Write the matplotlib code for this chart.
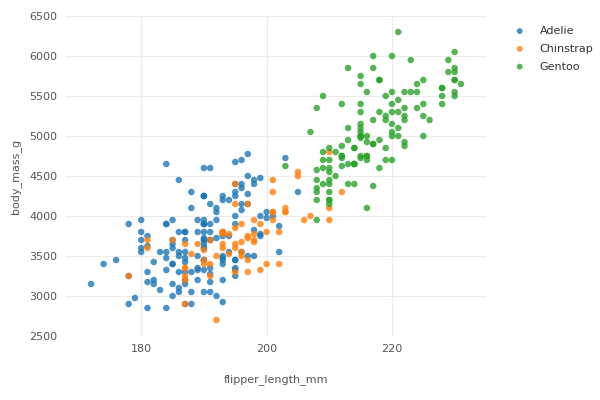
import matplotlib
matplotlib.use("Agg")
import matplotlib.pyplot as plt

adelie = [(181,3750),(186,3800),(195,3250),(193,3450),(190,3650),(181,3625),(195,4675),(193,3475),(190,4250),(186,3300),(180,3700),(182,3200),(191,3800),(198,4400),(185,3700),(195,3450),(197,4500),(184,3325),(194,4200),(174,3400),(180,3600),(189,3800),(185,3950),(180,3800),(187,3800),(183,3550),(187,3200),(172,3150),(180,3950),(178,3250),(178,3900),(188,3300),(184,3900),(195,3325),(196,4150),(190,3950),(180,3550),(181,3300),(184,4650),(182,3150),(195,3900),(186,3100),(196,4400),(185,3000),(190,4600),(182,3425),(179,2975),(190,3450),(191,4150),(186,3500),(188,4300),(190,3450),(200,4050),(187,2900),(191,3700),(186,3550),(193,3800),(181,2850),(194,3750),(185,3150),(195,4400),(185,3600),(192,4050),(184,2850),(192,3950),(195,3350),(188,4100),(190,3050),(198,4450),(190,3600),(190,3900),(196,3550),(197,4150),(190,3700),(195,4250),(191,3700),(184,3900),(187,3550),(195,4000),(189,3200),(196,4700),(187,3800),(193,4200),(191,3350),(194,3550),(190,3800),(189,3500),(189,3950),(190,3600),(202,3550),(205,4300),(185,3400),(186,4450),(187,3300),(190,3700),(196,4350),(178,2900),(192,4100),(192,3725),(203,4725),(183,3075),(190,4250),(193,2925),(184,3550),(199,3750),(190,3900),(181,3175),(197,4775),(198,3825),(191,4600),(193,3200),(197,4275),(191,3900),(196,4075),(188,2900),(199,3775),(189,3350),(189,3325),(187,3150),(198,3500),(176,3450),(202,3875),(186,3050),(199,4000),(191,3275),(195,4300),(191,3050),(190,3325),(197,3500),(193,3500),(199,4475),(187,3425),(190,3900),(191,3175),(200,3975),(185,3400),(193,4250),(193,3400),(187,3475),(188,3050),(190,3725),(192,3000),(185,3650),(190,4250),(184,3475),(195,3450),(193,3750),(187,3700),(201,4000)]
chinstrap = [(192,3500),(196,3900),(193,3650),(188,3525),(197,3725),(198,3950),(178,3250),(197,3750),(195,4150),(198,3700),(193,3800),(194,3775),(185,3700),(201,4050),(190,3575),(201,4050),(197,3300),(181,3700),(190,3450),(195,4400),(181,3600),(191,3400),(187,2900),(193,3800),(195,3300),(197,4150),(200,3400),(200,3800),(191,3700),(205,4550),(187,3200),(201,4300),(187,3350),(203,4100),(195,3600),(199,3900),(195,3850),(210,4800),(192,2700),(205,4500),(210,3950),(187,3650),(196,3550),(196,3500),(196,3675),(201,4450),(190,3400),(212,4300),(187,3250),(198,3675),(199,3325),(201,3950),(193,3600),(203,4050),(187,3350),(197,3450),(191,3250),(203,4050),(202,3800),(194,3525),(206,3950),(189,3650),(195,3650),(207,4000),(202,3400),(193,3775),(210,4100),(198,3775)]
gentoo = [(211,4500),(230,5700),(210,4450),(218,5700),(215,5400),(210,4550),(211,4800),(219,5200),(209,4400),(215,5150),(214,4650),(216,5550),(214,4650),(213,5850),(210,4200),(217,5850),(210,4150),(221,6300),(209,4800),(222,5350),(218,5700),(215,5000),(213,4400),(215,5050),(215,5000),(215,5100),(216,4100),(215,5650),(210,4600),(220,5550),(222,5250),(209,4700),(207,5050),(230,6050),(220,5150),(220,5400),(213,4950),(219,5250),(208,4350),(208,5350),(208,3950),(225,5700),(210,4300),(216,4750),(222,5550),(217,4900),(210,4200),(225,5400),(213,5100),(215,5300),(210,4850),(220,5300),(210,4400),(225,5000),(217,4900),(220,5050),(208,4300),(220,5000),(208,4450),(224,5550),(208,4200),(221,5300),(214,4400),(231,5650),(219,4700),(230,5700),(214,4650),(229,5800),(220,4700),(223,5550),(216,4750),(221,5000),(221,5100),(217,5200),(216,4700),(230,5800),(209,4600),(220,6000),(215,4750),(223,5950),(212,4625),(221,5450),(212,4725),(224,5350),(212,4750),(228,5600),(218,4600),(218,5300),(212,4875),(230,5550),(218,4950),(228,5400),(212,4750),(224,5650),(214,4850),(226,5200),(216,4925),(222,4875),(203,4625),(225,5250),(219,4850),(228,5600),(215,4975),(228,5500),(215,4725),(210,4700),(219,5500),(208,4575),(209,5500),(216,5000),(229,5950),(213,4650),(230,5500),(217,4375),(230,5850),(217,6000),(222,4925),(214,4850),(215,5750),(222,5200),(212,5400)]

species = ["Adelie", "Chinstrap", "Gentoo"]
colors = ["#1f77b4", "#ff7f0e", "#2ca02c"]

fig = plt.figure(figsize=(6, 4), dpi=100)
ax = fig.add_axes([0.11, 0.16, 0.70, 0.80])
for name, data, c in zip(species, [adelie, chinstrap, gentoo], colors):
    xs = [p[0] for p in data]; ys = [p[1] for p in data]
    ax.scatter(xs, ys, s=22, color=c, alpha=0.8, edgecolors="none", label=name)

ax.set_xlim(168, 235)
ax.set_ylim(2500, 6500)
ax.set_xticks([180, 200, 220])
ax.set_yticks(range(2500, 6501, 500))
ax.grid(True, color="#ebebeb", linewidth=0.8)
ax.set_axisbelow(True)
for s in ax.spines.values():
    s.set_visible(False)
ax.tick_params(length=0, labelsize=8, colors="#555555", pad=6)
ax.set_xlabel("flipper_length_mm", fontsize=8, color="#555555", labelpad=14)
ax.set_ylabel("body_mass_g", fontsize=8, color="#555555", labelpad=6)
leg = ax.legend(loc="upper left", bbox_to_anchor=(1.03, 1.0), frameon=False,
                fontsize=8, handletextpad=0.8, labelspacing=0.7, markerscale=0.9)
for t in leg.get_texts():
    t.set_color("#333333")
fig.savefig("out.png", dpi=100)
